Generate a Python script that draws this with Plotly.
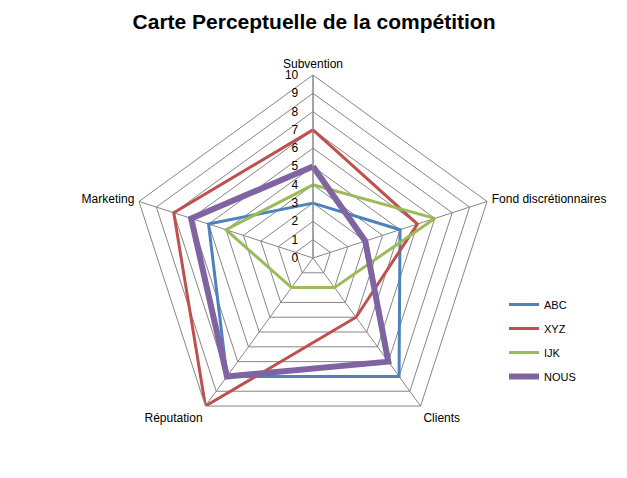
import plotly.graph_objects as go

categories = ["Subvention", "Fond discrétionnaires", "Clients", "Réputation", "Marketing"]
series_names = ["ABC", "XYZ", "IJK", "NOUS"]
abc = [3, 5, 8, 8, 6]
xyz = [7, 6, 4, 10, 8]
ijk = [4, 7, 2, 2, 5]
nous = [5, 3, 7, 8, 7]
radial_ticks = list(range(0, 11))

values = [abc, xyz, ijk, nous]
colors = ["#4F81BD", "#C0504D", "#9BBB59", "#8064A2"]
widths = [3, 3, 3, 6]

fig = go.Figure()
for name, vals, col, w in zip(series_names, values, colors, widths):
    fig.add_trace(go.Scatterpolar(
        r=vals + vals[:1],
        theta=categories + categories[:1],
        mode="lines",
        name=name,
        legendgroup=name,
        line=dict(color=col, width=w),
        hoverinfo="skip",
    ))

font_family = "Liberation Sans, Arial, sans-serif"
W, H = 627, 478
cx, cy, R = 305, 250, 183

fig.update_layout(
    width=W, height=H,
    paper_bgcolor="white",
    plot_bgcolor="white",
    margin=dict(l=0, r=0, t=0, b=0),
    title=dict(text="<b>Carte Perceptuelle de la compétition</b>",
               x=306 / W, xanchor="center", y=1 - 14 / H, yanchor="middle",
               font=dict(family=font_family, size=21, color="black")),
    font=dict(family=font_family, size=12, color="black"),
    polar=dict(
        bgcolor="white",
        gridshape="linear",
        domain=dict(x=[(cx - R) / W, (cx + R) / W], y=[(H - cy - R) / H, (H - cy + R) / H]),
        radialaxis=dict(
            range=[0, 10], tickvals=radial_ticks, ticktext=[str(t) for t in radial_ticks],
            angle=90, tickangle=90, side="counterclockwise",
            showline=True, linecolor="#868686", linewidth=1,
            gridcolor="#868686", gridwidth=1,
            ticks="outside", ticklen=10, tickcolor="rgba(0,0,0,0)",
            tickfont=dict(size=12, family=font_family, color="black"),
        ),
        angularaxis=dict(
            rotation=90, direction="clockwise",
            showline=True, linecolor="#868686", linewidth=1,
            gridcolor="#868686", gridwidth=1,
            ticks="outside", ticklen=2, tickcolor="rgba(0,0,0,0)",
            tickfont=dict(size=12, family=font_family, color="black"),
        ),
    ),
    showlegend=True,
    legend=dict(x=496 / W, y=1 - 282 / H, xanchor="left", yanchor="top",
                font=dict(size=11, family=font_family, color="black"),
                tracegroupgap=5, bgcolor="rgba(0,0,0,0)"),
)

fig.write_html("out.html")
